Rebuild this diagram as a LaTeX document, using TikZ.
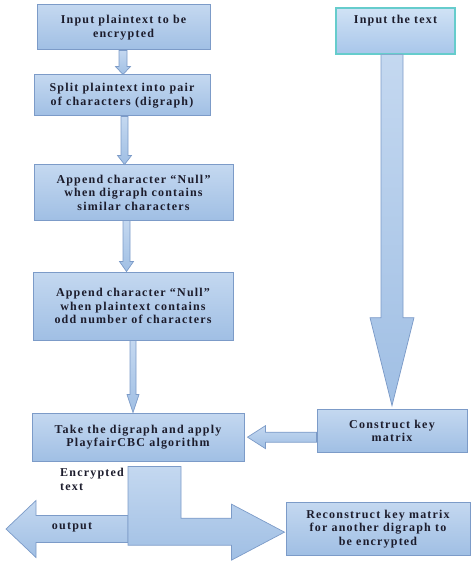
\documentclass[tikz,border=0pt]{standalone}
\usepackage{fontspec}
\setmainfont{Liberation Serif}[LetterSpace=10]
\usepackage{tikz}
\usetikzlibrary{positioning, calc}

\definecolor{boxtop}{HTML}{C4D8F0}
\definecolor{boxbot}{HTML}{A0BFE4}
\definecolor{boxline}{HTML}{7C9BC8}
\definecolor{intop}{HTML}{D0E2F5}
\definecolor{inbot}{HTML}{A8C6EA}
\definecolor{tealline}{HTML}{66CCCC}
\definecolor{ink}{HTML}{1C1C2C}

% block arrow pointing down: start, tip, half shaft, half head, head length
\newcommand{\blockdown}[5]{%
  \path[blockarr] let \p1=(#1), \p2=(#2) in
    (\x1-#3,\y1) -- (\x1-#3,\y2+#5) -- (\x1-#4,\y2+#5) -- (\x1,\y2)
    -- (\x1+#4,\y2+#5) -- (\x1+#3,\y2+#5) -- (\x1+#3,\y1) -- cycle;}
% block arrow pointing left
\newcommand{\blockleft}[5]{%
  \path[blockarr] let \p1=(#1), \p2=(#2) in
    (\x1,\y1+#3) -- (\x2+#5,\y1+#3) -- (\x2+#5,\y1+#4) -- (\x2,\y1)
    -- (\x2+#5,\y1-#4) -- (\x2+#5,\y1-#3) -- (\x1,\y1-#3) -- cycle;}

\begin{document}
\begin{tikzpicture}
        [x=1pt, y=1pt, font=\bfseries\fontsize{12}{13.5}\selectfont,
        procbox/.style={rectangle, draw=boxline, line width=1pt, top color=boxtop, bottom color=boxbot, align=center, text=ink, inner sep=2pt},
        blockarr/.style={draw=boxline, line width=0.7pt, top color=boxtop, bottom color=boxbot}]
        \useasboundingbox (0,0) rectangle (474,-561);

        % left column
        \node[procbox, minimum width=173pt, minimum height=45pt]  (plain)  at (123.5,-27.5)
        {Input plaintext to be\\encrypted};

        \node[procbox, minimum width=176pt, minimum height=41pt]  (split)  [below=24pt of plain, xshift=-1.5pt]
        {Split plaintext into pair\\of characters (digraph)};

        \node[procbox, minimum width=199pt, minimum height=55pt]  (nullsim)  [below=48pt of split, xshift=11.5pt]
        {Append character ``Null''\\when digraph contains\\similar characters};

        \node[procbox, minimum width=200pt, minimum height=68pt]  (nullodd)  [below=51pt of nullsim, xshift=-0.5pt]
        {Append character ``Null''\\when plaintext contains\\odd number of characters};

        \node[procbox, minimum width=212pt, minimum height=48pt]  (apply)  [below=72pt of nullodd, xshift=5pt]
        {Take the digraph and apply\\PlayfairCBC algorithm};

        % right column
        \node[procbox, draw=tealline, line width=1.3pt, top color=intop, bottom color=inbot,
              minimum width=119pt, text height=7pt, text depth=22pt, inner ysep=8.5pt]  (intext)  at (395.5,-31)
        {Input the text};

        \node[procbox, minimum width=150pt, minimum height=43pt]  (keym)  [below=354pt of intext, xshift=-3.5pt]
        {Construct key\\matrix};

        \node[procbox, minimum width=184pt, minimum height=53pt]  (recon)  [below=49pt of keym, xshift=-14pt]
        {Reconstruct key matrix\\for another digraph to\\be encrypted};

        \coordinate (outtip) at (6,-529);

        % arrows
        \blockdown{[xshift=-0.5pt]plain.south}{[xshift=-0.5pt]split.north}{4pt}{7.5pt}{8pt}
        \blockdown{[xshift=2.5pt]split.south}{[xshift=2.5pt]nullsim.north}{3.5pt}{7pt}{9pt}
        \blockdown{[xshift=-7pt]nullsim.south}{[xshift=-7pt]nullsim.south |- nullodd.north}{3.5pt}{7pt}{10pt}
        \blockdown{nullodd.south}{nullodd.south |- apply.north}{3pt}{6pt}{18pt}
        \blockdown{[xshift=-3.5pt]intext.south}{[yshift=3pt]keym.north}{11pt}{22pt}{88pt}
        \blockleft{[yshift=-6.5pt]keym.west}{[xshift=3pt,yshift=-6.5pt]keym.west -| apply.east}{5pt}{11.5pt}{18pt}

        \blockleft{$(apply.south |- outtip)+(-10pt,0)$}{outtip}{13.5pt}{28.5pt}{30pt}
        \path[blockarr] let \p1=([yshift=-5pt]apply.south), \p2=([yshift=-3.5pt]recon.west) in
            (\x1-10pt,\y1) -- (\x1+43pt,\y1) -- (\x1+43pt,\y2+14pt) -- (\x2-54pt,\y2+14pt)
            -- (\x2-54pt,\y2+28pt) -- (\x2-1pt,\y2) -- (\x2-54pt,\y2-28pt) -- (\x2-54pt,\y2-13pt)
            -- (\x1-10pt,\y2-13pt) -- cycle;

        % labels
        \node[text=ink, align=left, anchor=north west, inner sep=0pt]  (enclbl)  at (60,-468)
        {Encrypted\\text};
        \node[text=ink, inner sep=0pt]  (outlbl)  at (72,-527)  {output};
\end{tikzpicture}
\end{document}
